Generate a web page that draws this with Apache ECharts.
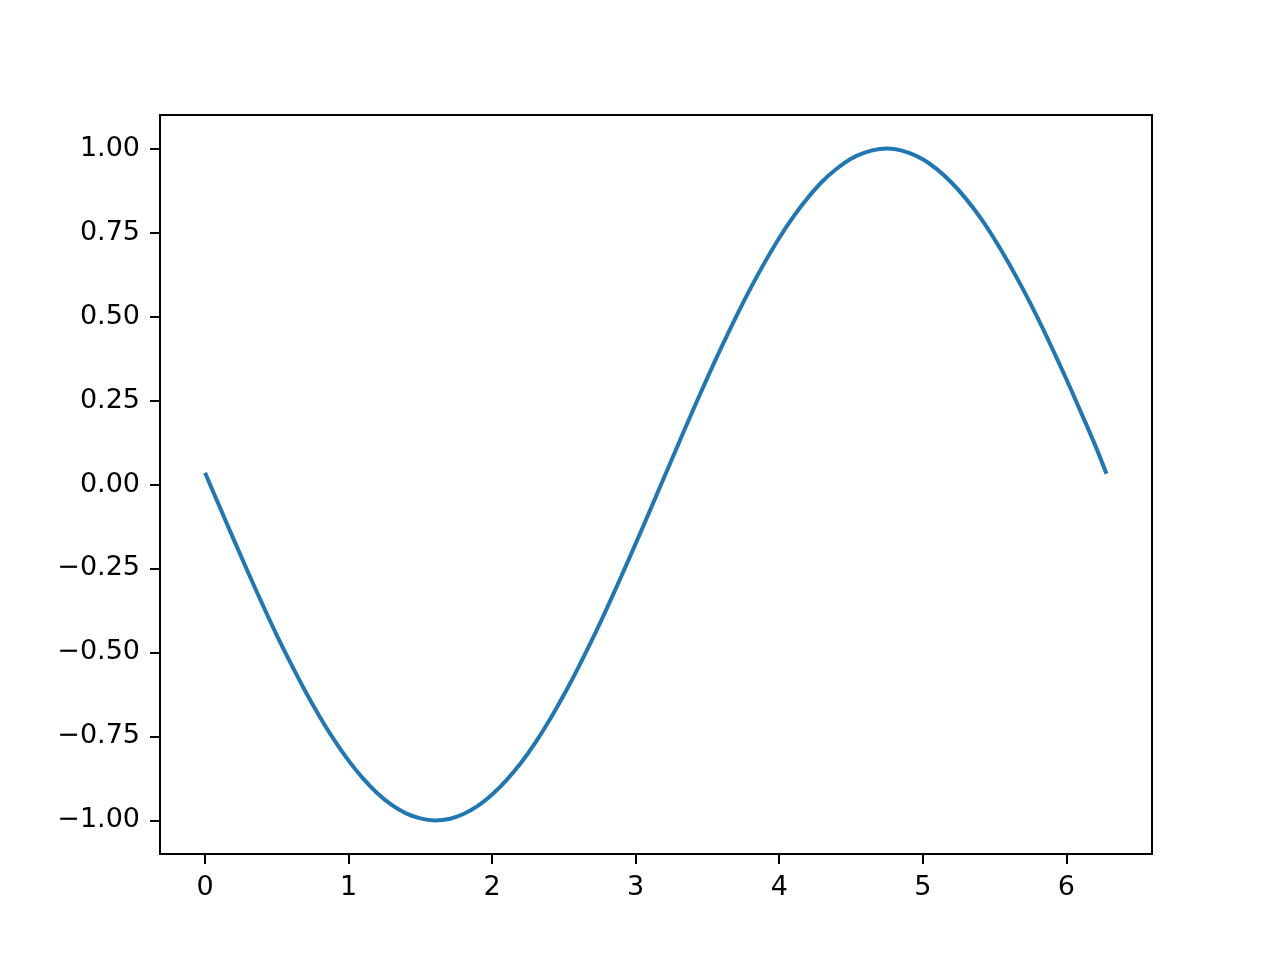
<!DOCTYPE html>
<html>
<head>
<meta charset="utf-8">
<script src="https://cdn.jsdelivr.net/npm/echarts@6/dist/echarts.min.js"></script>
<style>html,body{margin:0;padding:0;background:#fff;}#chart{width:1280px;height:960px;}</style>
</head>
<body>
<div id="chart"></div>
<script>
const xValues = [0,0.1,0.2,0.3,0.4,0.5,0.6,0.7,0.8,0.9,1.0,1.1,1.2,1.3,1.4,1.5,1.6,1.7,1.8,1.9,2.0,2.1,2.2,2.3,2.4,2.5,2.6,2.7,2.8,2.9,3.0,3.1,3.2,3.3,3.4,3.5,3.6,3.7,3.8,3.9,4.0,4.1,4.2,4.3,4.4,4.5,4.6,4.7,4.75,4.8,4.9,5.0,5.1,5.2,5.3,5.4,5.5,5.6,5.7,5.8,5.9,6.0,6.1,6.2,6.28];
const yValues = [0.035,-0.065,-0.164,-0.262,-0.357,-0.449,-0.535,-0.617,-0.692,-0.761,-0.822,-0.875,-0.919,-0.954,-0.979,-0.994,-1.000,-0.996,-0.981,-0.957,-0.923,-0.880,-0.829,-0.769,-0.701,-0.626,-0.545,-0.459,-0.368,-0.273,-0.176,-0.077,0.023,0.123,0.222,0.318,0.411,0.500,0.584,0.662,0.734,0.798,0.854,0.902,0.940,0.970,0.989,0.999,1.000,0.999,0.988,0.968,0.938,0.899,0.851,0.795,0.730,0.658,0.580,0.496,0.407,0.314,0.217,0.118,0.032];
const xTicks = [0,1,2,3,4,5,6];
const yTicks = [-1,-0.75,-0.5,-0.25,0,0.25,0.5,0.75,1];

const chart = echarts.init(document.getElementById('chart'), null, {renderer:'canvas'});
const font = 'DejaVu Sans';
chart.setOption({
  animation:false,
  backgroundColor:'#fff',
  grid:{left:160,right:128,top:115,bottom:106,show:true,borderColor:'#000',borderWidth:2,containLabel:false},
  xAxis:{type:'value',min:-0.314,max:6.597,
    splitLine:{show:false},
    axisLine:{show:true,onZero:false,lineStyle:{color:'#000',width:2}},
    axisTick:{show:true,length:10,customValues:xTicks,lineStyle:{color:'#000',width:2}},
    axisLabel:{customValues:xTicks,margin:20,color:'#000',fontSize:27,fontFamily:font,formatter:v=>String(v)}
  },
  yAxis:{type:'value',min:-1.1,max:1.1,
    splitLine:{show:false},
    axisLine:{show:true,onZero:false,lineStyle:{color:'#000',width:2}},
    axisTick:{show:true,length:10,customValues:yTicks,lineStyle:{color:'#000',width:2}},
    axisLabel:{customValues:yTicks,margin:20,color:'#000',fontSize:27,fontFamily:font,
      formatter:v=>(v<0?'\u2212':'')+Math.abs(v).toFixed(2)}
  },
  series:[{
    type:'line',
    data:xValues.map((x,i)=>[x,yValues[i]]),
    showSymbol:false,
    smooth:0.35,
    lineStyle:{color:'#1f77b4',width:4,cap:'butt'},
    clip:false
  }]
});
</script>
</body>
</html>
